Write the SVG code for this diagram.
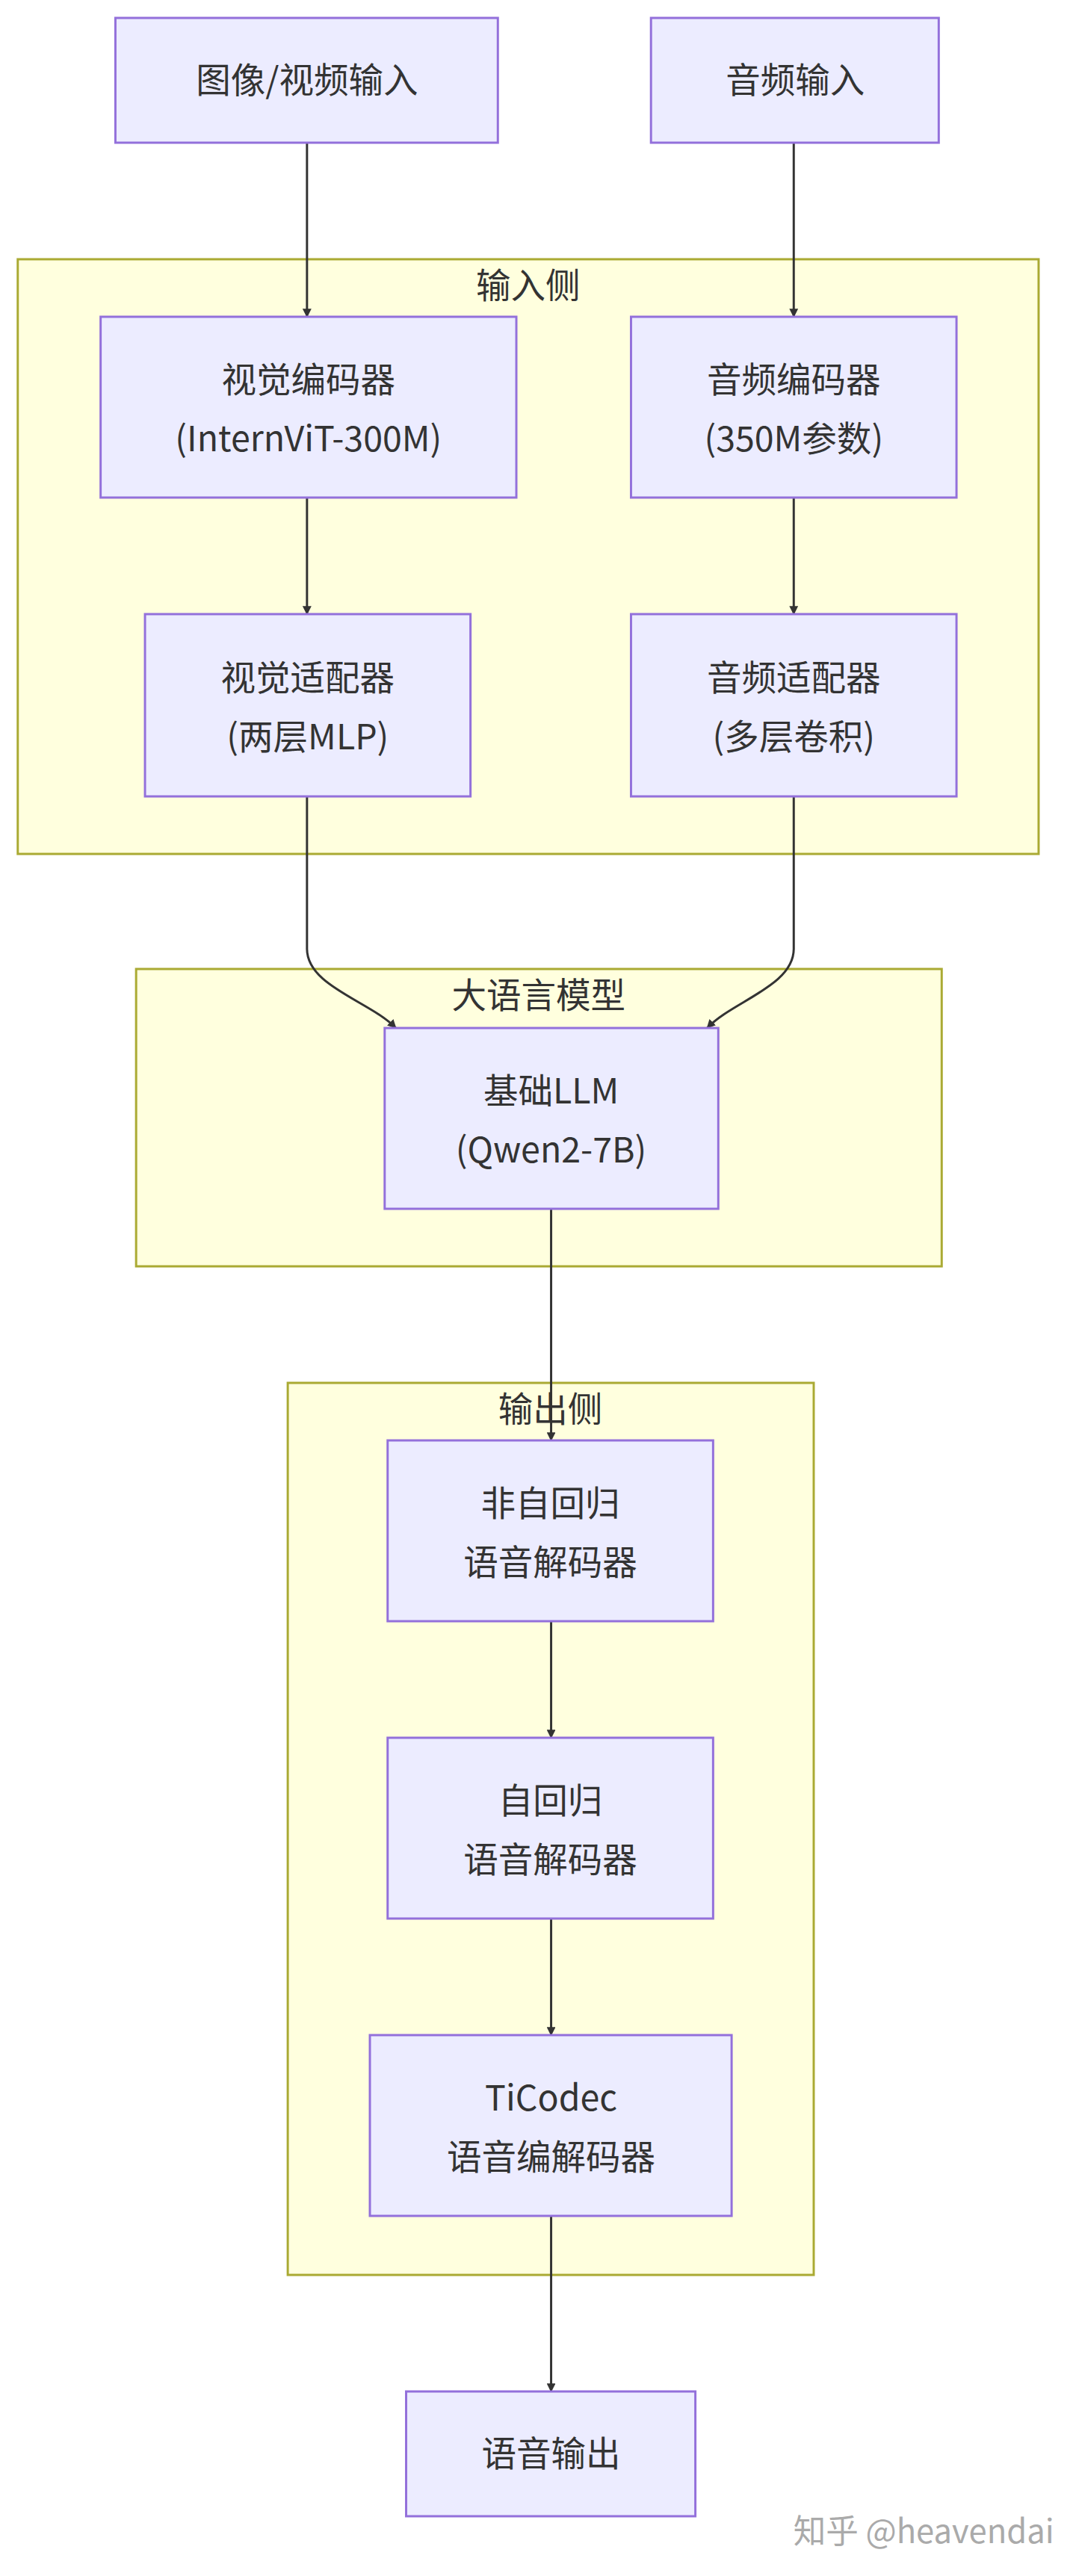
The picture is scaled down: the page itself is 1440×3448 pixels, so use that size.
<svg xmlns="http://www.w3.org/2000/svg" width="1440" height="3448" viewBox="0 0 1440 3448">
<style>
.n{fill:#ECECFF;stroke:#9370DB;stroke-width:3}
.c{fill:#FFFFDE;stroke:#AAAA33;stroke-width:3}
.t{font-family:"Noto Sans CJK SC","Liberation Sans",sans-serif;font-size:47px;fill:#333;text-anchor:middle}
.e{fill:none;stroke:#333;stroke-width:3;marker-end:url(#a)}
</style>
<defs><marker id="a" viewBox="0 0 10 10" refX="9" refY="5" markerWidth="12" markerHeight="12" markerUnits="userSpaceOnUse" orient="auto"><path d="M0,0L10,5L0,10z" fill="#333"/></marker></defs>
<rect width="1440" height="3448" fill="#fff"/>
<g transform="scale(0.99 1)">
<g id="cluster-in"><rect class="c" x="24" y="347" width="1380" height="796"/><text class="t" x="714" y="399">输入侧</text></g>
<g id="cluster-llm"><rect class="c" x="184" y="1297" width="1089" height="398"/><text class="t" x="728" y="1349">大语言模型</text></g>
<g id="cluster-out"><rect class="c" x="389" y="1851" width="711" height="1194"/><text class="t" x="744" y="1903">输出侧</text></g>
<g id="edges">
<path class="e" d="M415,191V424"/>
<path class="e" d="M1073,191V424"/>
<path class="e" d="M415,666V822"/>
<path class="e" d="M1073,666V822"/>
<path class="e" d="M415,1066V1270C415,1320 500,1340 535,1376"/>
<path class="e" d="M1073,1066V1270C1073,1320 990,1340 956,1376"/>
<path class="e" d="M745,1618V1928"/>
<path class="e" d="M745,2170V2326"/>
<path class="e" d="M745,2568V2724"/>
<path class="e" d="M745,2966V3201"/>
</g>
<g id="n1"><rect class="n" x="156" y="24" width="517" height="167"/><text class="t" x="415" y="124">图像/视频输入</text></g>
<g id="n2"><rect class="n" x="880" y="24" width="389" height="167"/><text class="t" x="1075" y="124">音频输入</text></g>
<g id="n3"><rect class="n" x="136" y="424" width="562" height="242"/><text class="t" x="417" y="525">视觉编码器</text><text class="t" x="417" y="604">(InternViT-300M)</text></g>
<g id="n4"><rect class="n" x="853" y="424" width="440" height="242"/><text class="t" x="1073" y="525">音频编码器</text><text class="t" x="1073" y="604">(350M参数)</text></g>
<g id="n5"><rect class="n" x="196" y="822" width="440" height="244"/><text class="t" x="416" y="924">视觉适配器</text><text class="t" x="416" y="1003">(两层MLP)</text></g>
<g id="n6"><rect class="n" x="853" y="822" width="440" height="244"/><text class="t" x="1073" y="924">音频适配器</text><text class="t" x="1073" y="1003">(多层卷积)</text></g>
<g id="n7"><rect class="n" x="520" y="1376" width="451" height="242"/><text class="t" x="745" y="1477">基础LLM</text><text class="t" x="745" y="1556">(Qwen2-7B)</text></g>
<g id="n8"><rect class="n" x="524" y="1928" width="440" height="242"/><text class="t" x="744" y="2029">非自回归</text><text class="t" x="744" y="2108">语音解码器</text></g>
<g id="n9"><rect class="n" x="524" y="2326" width="440" height="242"/><text class="t" x="744" y="2427">自回归</text><text class="t" x="744" y="2506">语音解码器</text></g>
<g id="n10"><rect class="n" x="500" y="2724" width="489" height="242"/><text class="t" x="745" y="2825">TiCodec</text><text class="t" x="745" y="2904">语音编解码器</text></g>
<g id="n11"><rect class="n" x="549" y="3201" width="391" height="167"/><text class="t" x="745" y="3301">语音输出</text></g>
<text x="1425" y="3404" style="font-family:'Noto Sans CJK SC','Liberation Sans',sans-serif;font-size:44px;fill:#aaa;text-anchor:end">知乎 @heavendai</text>
</g>
</svg>
